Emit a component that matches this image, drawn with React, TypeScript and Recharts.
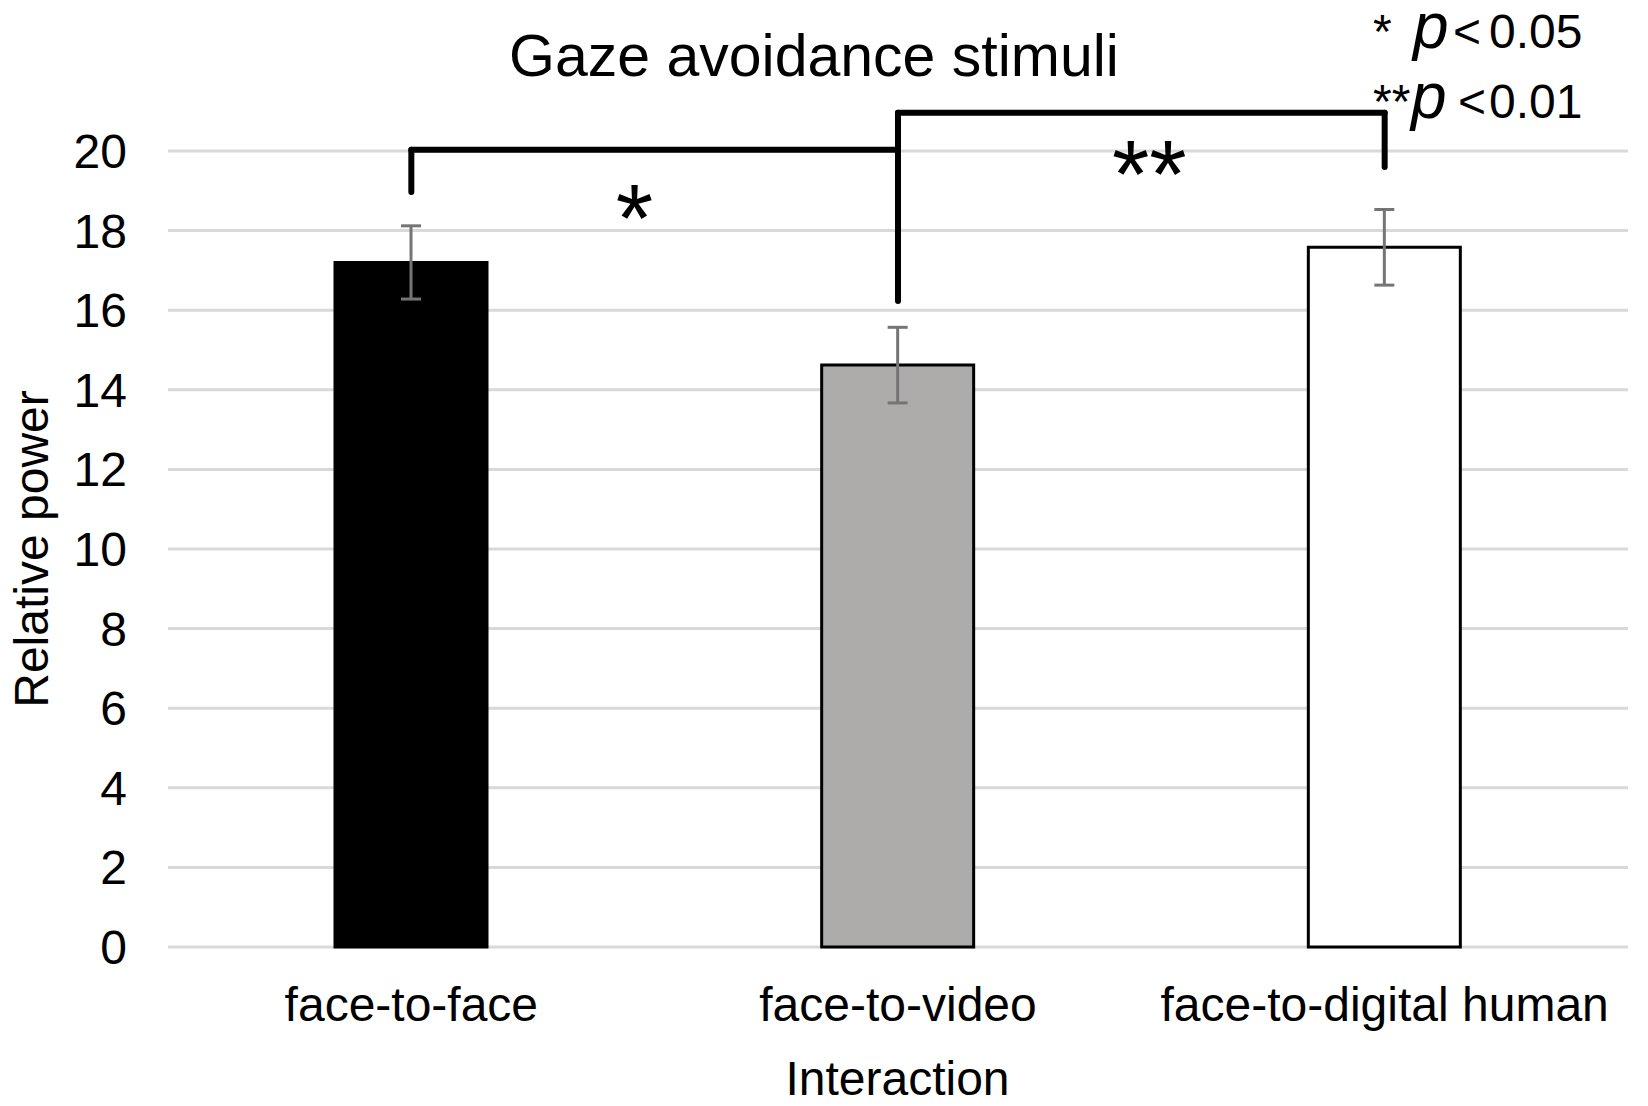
import React from 'react';
import { BarChart, Bar, XAxis, YAxis, CartesianGrid, Cell, ErrorBar, ReferenceLine } from 'recharts';

const categories = ['face-to-face', 'face-to-video', 'face-to-digital human'];
const means = [17.2, 14.62, 17.58];
const errors = [0.92, 0.95, 0.95];
const barFills = ['#000000', '#aeabab', '#ffffff'];
const yTicks = [0, 2, 4, 6, 8, 10, 12, 14, 16, 18, 20];

// significance brackets (data units)
const bracketSegments = [
  { x1: 'face-to-face', y1: 18.97, x2: 'face-to-face', y2: 20.03 },
  { x1: 'face-to-face', y1: 20.03, x2: 'face-to-video', y2: 20.03 },
  { x1: 'face-to-video', y1: 16.23, x2: 'face-to-video', y2: 20.96 },
  { x1: 'face-to-video', y1: 20.96, x2: 'face-to-digital human', y2: 20.96 },
  { x1: 'face-to-digital human', y1: 20.96, x2: 'face-to-digital human', y2: 19.6 },
];

const data = categories.map((c, i) => ({ name: c, value: means[i], err: errors[i] }));

const FONT = '"Liberation Sans", Arial, Helvetica, sans-serif';
const W = 1648;
const H = 1106;

export default function App() {
  return (
    <div style={{ position: 'absolute', left: 0, top: 0, width: W, height: H, background: '#fff' }}>
      <BarChart
        width={W}
        height={H}
        data={data}
        margin={{ top: 151, right: 20, bottom: 99, left: 0 }}
        style={{ fontFamily: FONT }}
      >
        <CartesianGrid horizontal vertical={false} stroke="#d9d9d9" strokeWidth={3} />
        <XAxis
          dataKey="name"
          height={60}
          axisLine={false}
          tickLine={false}
          tickMargin={34}
          interval={0}
          tick={{ fill: '#000', fontSize: 48, fontFamily: FONT }}
        />
        <YAxis
          width={168}
          domain={[0, 20]}
          ticks={yTicks}
          axisLine={false}
          tickLine={false}
          tickMargin={35}
          tick={{ fill: '#000', fontSize: 48, fontFamily: FONT }}
        />
        <Bar dataKey="value" barSize={152} stroke="#000" strokeWidth={3} isAnimationActive={false}>
          {data.map((d, i) => (
            <Cell key={d.name} fill={barFills[i]} />
          ))}
          <ErrorBar dataKey="err" width={10} strokeWidth={3} stroke="#757575" direction="y" isAnimationActive={false} />
        </Bar>
        {bracketSegments.map((s, i) => (
          <ReferenceLine
            key={i}
            segment={[{ x: s.x1, y: s.y1 }, { x: s.x2, y: s.y2 }]}
            stroke="#000"
            strokeWidth={6}
            strokeLinecap="round"
            ifOverflow="visible"
          />
        ))}
      </BarChart>
      <svg
        width={W}
        height={H}
        style={{ position: 'absolute', left: 0, top: 0, pointerEvents: 'none' }}
        fontFamily={FONT}
      >
        <text x={814} y={76} fontSize={59} textAnchor="middle" fill="#000">Gaze avoidance stimuli</text>
        <text y={48} fontSize={48} fill="#000">
          <tspan x={1373}>*</tspan>
          <tspan x={1413} fontStyle="italic" fontSize={64}>p</tspan>
          <tspan x={1453}>&lt;</tspan>
          <tspan x={1489}>0.05</tspan>
        </text>
        <text y={118} fontSize={48} fill="#000">
          <tspan x={1373}>**</tspan>
          <tspan x={1411} fontStyle="italic" fontSize={64}>p</tspan>
          <tspan x={1458}>&lt;</tspan>
          <tspan x={1489}>0.01</tspan>
        </text>
        <text x={634.5} y={251} fontSize={96} textAnchor="middle" fill="#000">*</text>
        <text x={1112} y={207} fontSize={96} fill="#000">**</text>
        <text x={897.5} y={1095} fontSize={48} textAnchor="middle" fill="#000">Interaction</text>
        <text x={48} y={549} fontSize={48} textAnchor="middle" fill="#000" transform="rotate(-90 48 549)">Relative power</text>
      </svg>
    </div>
  );
}
